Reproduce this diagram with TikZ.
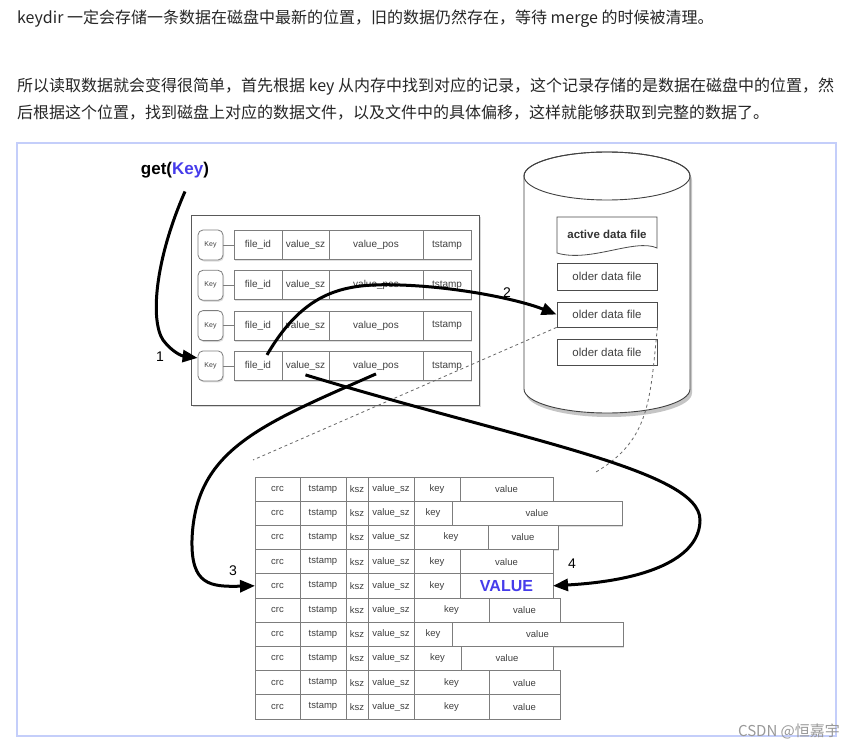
\documentclass[tikz,border=0pt]{standalone}
\usepackage{fontspec}
\setmainfont{Liberation Sans}
\newfontfamily\cjk{Noto Sans CJK SC}
\usetikzlibrary{arrows.meta,positioning,shadows}

\definecolor{frameblue}{RGB}{196,206,250}
\definecolor{keyblue}{RGB}{70,60,235}
\definecolor{cellgray}{RGB}{125,125,125}

\tikzset{
  intro/.style={anchor=west, inner sep=0pt, text=black!85, font=\cjk\fontsize{16}{16}\selectfont},
  cell/.style={draw=cellgray, line width=0.8pt, fill=white, inner sep=0pt, outer sep=0pt,
    minimum height=29pt, anchor=west, text=black!75, font=\fontsize{10}{10}\selectfont,
    drop shadow={opacity=0.25, shadow xshift=1pt, shadow yshift=-1.5pt}},
  dcell/.style={cell, minimum height=24.2pt, font=\fontsize{9.5}{10}\selectfont},
  keybox/.style={draw=cellgray, line width=0.8pt, fill=white, rounded corners=5pt,
    minimum width=25pt, minimum height=30pt, inner sep=0pt, text=black!75,
    font=\fontsize{7}{7}\selectfont,
    drop shadow={opacity=0.25, shadow xshift=1pt, shadow yshift=-1.5pt}},
  filebox/.style={draw=black!70, line width=0.8pt, fill=white, minimum width=100pt,
    inner sep=0pt, text=black!75, font=\fontsize{11.5}{12}\selectfont},
  bigarrow/.style={line width=3pt, -{Triangle[length=15pt,width=12pt]}},
  dashlink/.style={draw=black!60, line width=0.8pt, dash pattern=on 3pt off 3pt},
  numlabel/.style={font=\fontsize{14}{14}\selectfont}
}

\begin{document}
\begin{tikzpicture}[x=1pt,y=-1pt]
  \useasboundingbox (0,0) rectangle (851,746);
  \fill[white] (0,0) rectangle (851,746);

  % Text above the figure.
  \node[intro] (line1) at (17,19) {keydir 一定会存储一条数据在磁盘中最新的位置，旧的数据仍然存在，等待 merge 的时候被清理。};
  \node[intro] (line2) at (17,87) {所以读取数据就会变得很简单，首先根据 key 从内存中找到对应的记录，这个记录存储的是数据在磁盘中的位置，然};
  \node[intro] (line3) at (17,113) {后根据这个位置，找到磁盘上对应的数据文件，以及文件中的具体偏移，这样就能够获取到完整的数据了。};

  \draw[frameblue, line width=1.6pt] (17,143) rectangle (836,736);

  \node[font=\fontsize{17}{17}\selectfont\bfseries] (get) at (175,170) {get(\textcolor{keyblue}{Key})};

  % Keydir.
  \draw[draw=black!65, line width=0.9pt, fill=white,
    drop shadow={opacity=0.3, shadow xshift=2pt, shadow yshift=-2pt}] (191,215) rectangle (479,405);
  \foreach \r in {1,...,4}{
    \pgfmathsetmacro{\yy}{245+(\r-1)*40.3}
    \node[keybox] (kd\r) at (210.5,\yy) {Key};
    \node[cell, minimum width=48pt] (fid\r) at (234,\yy) {file\_id};
    \node[cell, minimum width=47pt, right=0pt of fid\r] (kvsz\r) {value\_sz};
    \node[cell, minimum width=94pt, right=0pt of kvsz\r] (kpos\r) {value\_pos};
    \node[cell, minimum width=48pt, right=0pt of kpos\r] (kts\r) {tstamp};
    \draw[cellgray, line width=0.8pt] (kd\r) -- (fid\r);
  }

  % Disk.
  \draw[draw=black!75, line width=0.9pt, fill=white,
    drop shadow={opacity=0.45, shadow xshift=2pt, shadow yshift=-4pt}]
    (524,176) -- (524,389) .. controls (524,402.3) and (561.2,413) .. (607,413)
    .. controls (652.8,413) and (690,402.3) .. (690,389) -- (690,176)
    .. controls (690,162.7) and (652.8,152) .. (607,152)
    .. controls (561.2,152) and (524,162.7) .. (524,176) -- cycle;
  \draw[draw=black!75, line width=0.9pt] (607,176) ellipse [x radius=83, y radius=24];

  \draw[draw=black!70, line width=0.8pt, fill=white] (557,217) -- (657,217) -- (657,248)
    .. controls (635,238) and (590,263) .. (557,253) -- cycle;
  \node[font=\fontsize{11.5}{12}\selectfont\bfseries, text=black!80] (act) at (607,234) {active data file};
  \node[filebox, minimum height=27pt] (odf1) at (607,276.5) {older data file};
  \node[filebox, minimum height=25pt] (odf2) at (607,314.5) {older data file};
  \node[filebox, minimum height=26pt] (odf3) at (607,352) {older data file};

  % Data file.
  \foreach \r/\kw/\vw in {1/46/93,2/38/170,3/74/70,4/46/93,5/46/93,6/75/71,7/38/171,8/47/92,9/75/71,10/75/71}{
    \pgfmathsetmacro{\yy}{489+(\r-1)*24.2}
    \node[dcell, minimum width=45pt] (crc\r) at (255,\yy) {crc};
    \node[dcell, minimum width=46pt, right=0pt of crc\r] (dts\r) {tstamp};
    \node[dcell, minimum width=22pt, right=0pt of dts\r] (ksz\r) {ksz};
    \node[dcell, minimum width=46pt, right=0pt of ksz\r] (dvsz\r) {value\_sz};
    \node[dcell, minimum width=\kw pt, right=0pt of dvsz\r] (dkey\r) {key};
    \node[dcell, minimum width=\vw pt, right=0pt of dkey\r] (dval\r)
      {\ifnum\r=5 {\fontsize{16}{16}\selectfont\bfseries\color{keyblue}VALUE}\else value\fi};
  }

  % Where the file sits on disk.
  \coordinate (dl) at (253,460);
  \coordinate (dr) at (596,472);
  \draw[dashlink] (odf2.south west) -- (dl);
  \draw[dashlink] (odf2.south east) .. controls (650,400) and (650,440) .. (dr);

  % Lookup steps.
  \draw[bigarrow] ([xshift=10pt,yshift=-10pt]get.south) .. controls (155,260) and (150,320) .. (163,340)
    .. controls (172,352) and (182,356) .. ([yshift=8pt]kd4.west);
  \draw[bigarrow] ([xshift=9pt,yshift=11pt]fid4.center) .. controls (305,290) and (345,283) .. (400,285)
    .. controls (460,287) and (520,300) .. (odf2.west);
  \draw[bigarrow] ([yshift=-8pt]kpos4.center) .. controls (260,425) and (195,450) .. (192,540)
    .. controls (191,585) and (210,587) .. (crc5.west);
  \draw[bigarrow] ([yshift=-9pt]kvsz4.center) .. controls (520,440) and (700,470) .. (700,520)
    .. controls (700,555) and (655,580) .. (dval5.east);

  \node[numlabel] (n1) at (160,357) {1};
  \node[numlabel] (n2) at (507,293) {2};
  \node[numlabel] (n3) at (233,571) {3};
  \node[numlabel] (n4) at (572,564) {4};

  \node[font=\cjk\fontsize{15}{15}\selectfont, text=black!40] (csdn) at (789,731) {CSDN @恒嘉宇};
\end{tikzpicture}
\end{document}
